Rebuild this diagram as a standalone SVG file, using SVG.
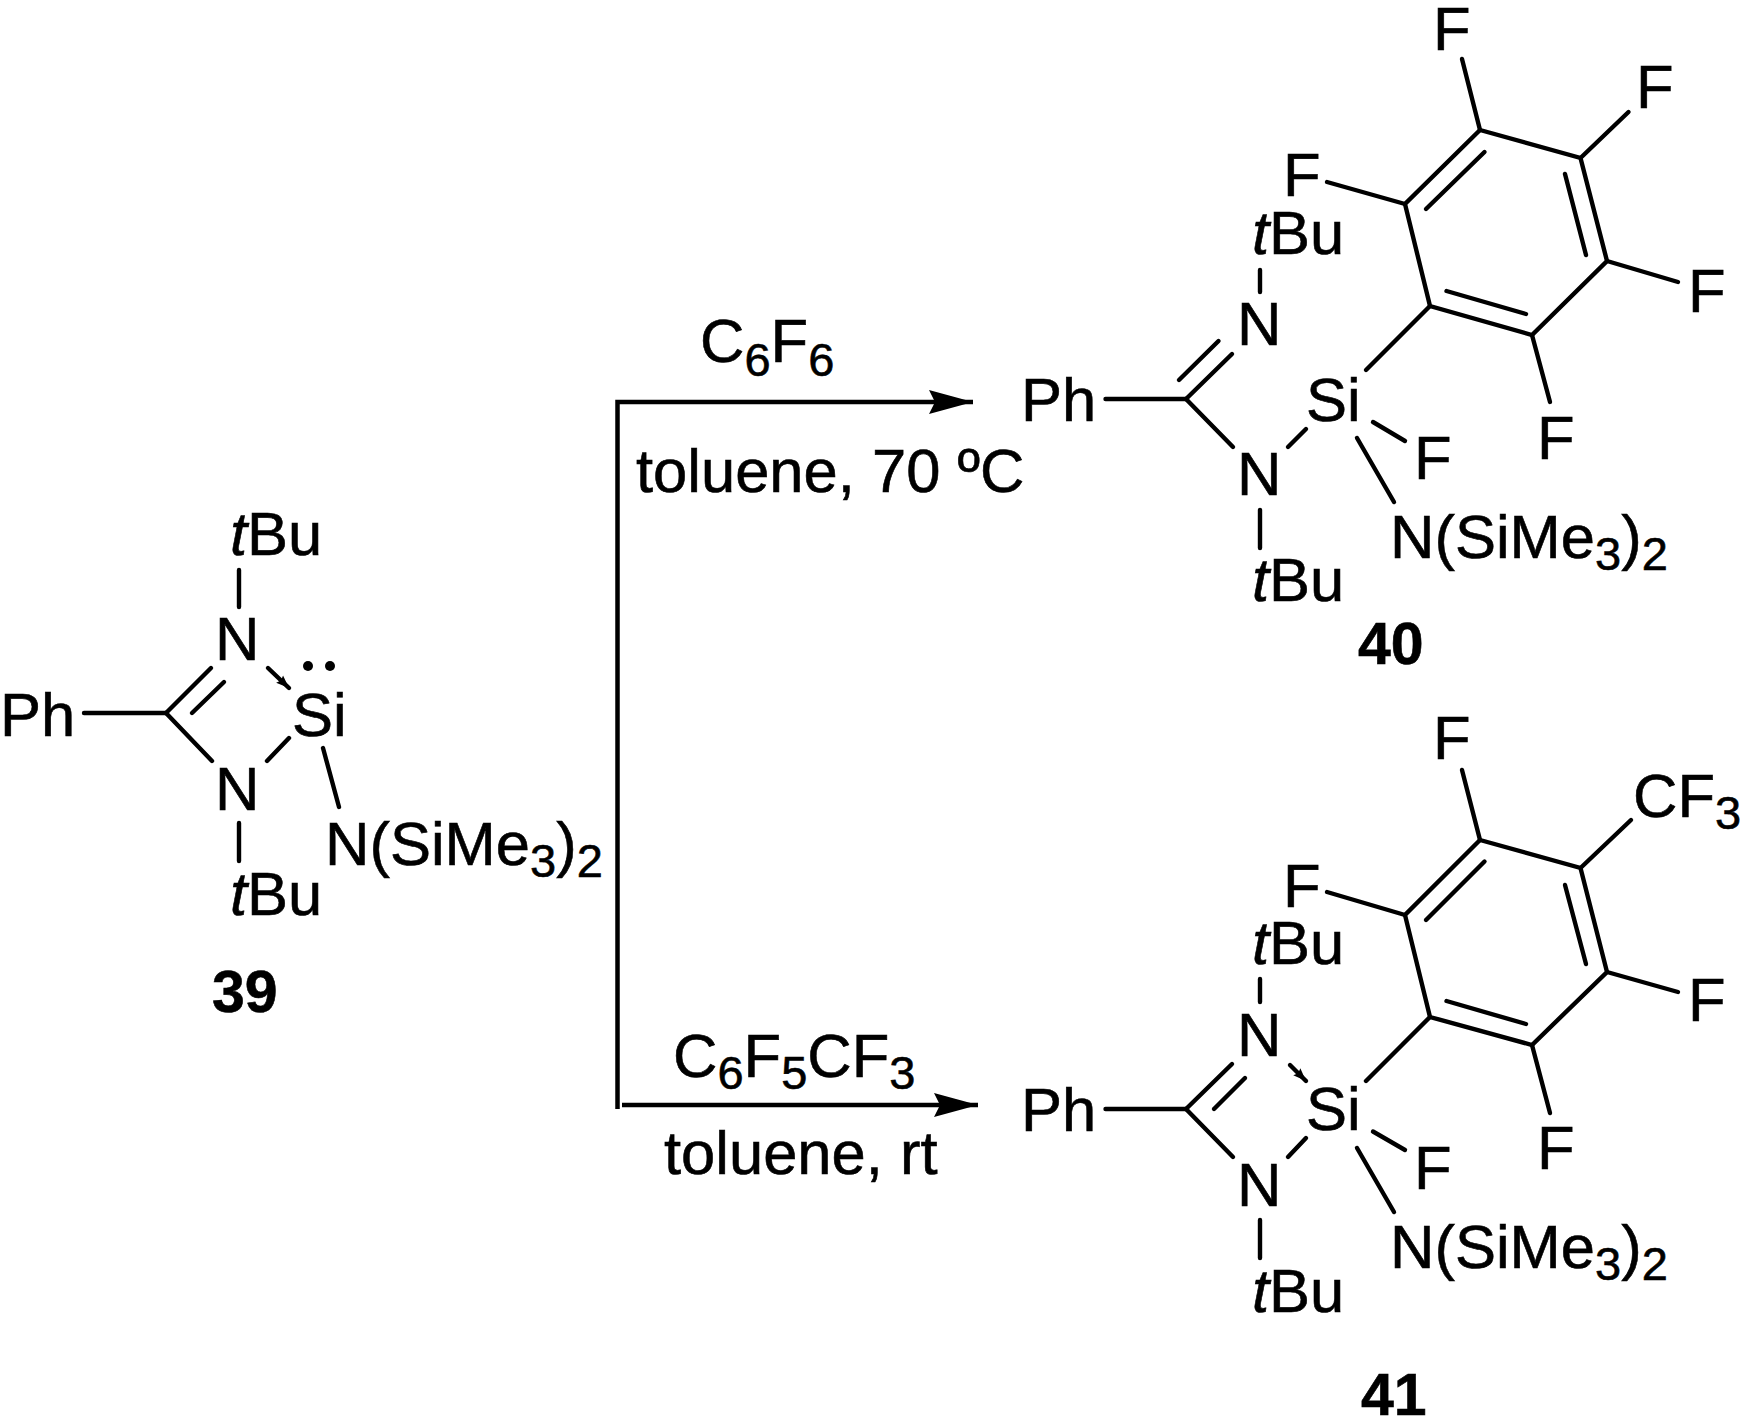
<svg xmlns="http://www.w3.org/2000/svg" width="1745" height="1420" viewBox="0 0 1745 1420">
<style>
text{font-family:"Liberation Sans",Arial,sans-serif;font-size:61.5px;fill:#000;stroke:#000;stroke-width:.6}
.l{font-weight:bold;font-size:59px}
.s{font-size:47px}
.i{font-style:italic}
.b line,.b polyline{stroke:#000;stroke-width:4.4;fill:none;stroke-linecap:round}
.a{stroke:#000;stroke-width:4.5;fill:none}
</style>
<defs>
<marker id="big" markerUnits="userSpaceOnUse" markerWidth="46" markerHeight="26" refX="44" refY="13" orient="auto"><path d="M0 1 L44 13 L0 25 L6 13 Z" fill="#000"/></marker>
<marker id="small" markerUnits="userSpaceOnUse" markerWidth="14" markerHeight="12" refX="13" refY="6" orient="auto"><path d="M0 1 L13 6 L0 11 L2 6 Z" fill="#000"/></marker>
</defs>
<rect width="1745" height="1420" fill="#fff"/>
<g id="connectors">
<polyline class="a" points="617.5,640 617.5,402 973,402" marker-end="url(#big)"/>
<polyline class="a" points="617.5,640 617.5,1109"/>
<line class="a" x1="622" y1="1105" x2="978" y2="1105" marker-end="url(#big)"/>
</g>
<g id="cond-top">
<text x="700" y="362">C<tspan class="s" dy="14">6</tspan><tspan dy="-14">F</tspan><tspan class="s" dy="14">6</tspan></text>
<text x="636" y="492">toluene, 70 ºC</text>
</g>
<g id="cond-bottom">
<text x="673" y="1077">C<tspan class="s" dy="12">6</tspan><tspan dy="-12">F</tspan><tspan class="s" dy="12">5</tspan><tspan dy="-12">CF</tspan><tspan class="s" dy="12">3</tspan></text>
<text x="664" y="1174">toluene, rt</text>
</g>
<g id="compound-39" class="b">
<line x1="239" y1="570" x2="239" y2="607"/>
<line x1="84" y1="713" x2="166" y2="713"/>
<line x1="166" y1="713" x2="211" y2="668"/>
<line x1="192" y1="713" x2="224" y2="682"/>
<line x1="166" y1="713" x2="212" y2="761"/>
<line x1="267" y1="761" x2="289" y2="738"/>
<line x1="268" y1="668" x2="289" y2="688" marker-end="url(#small)"/>
<line x1="323" y1="748" x2="339" y2="807"/>
<line x1="239" y1="823" x2="239" y2="861"/>
<circle cx="308" cy="666" r="5"/><circle cx="330" cy="666" r="5"/>
<text x="230" y="555"><tspan class="i">t</tspan>Bu</text>
<text x="215" y="660">N</text>
<text x="292" y="736">Si</text>
<text x="0" y="736">Ph</text>
<text x="215" y="810">N</text>
<text x="325" y="865">N(SiMe<tspan class="s" dy="12">3</tspan><tspan dy="-12">)</tspan><tspan class="s" dy="12">2</tspan></text>
<text x="230" y="915"><tspan class="i">t</tspan>Bu</text>
<text class="l" x="212" y="1012">39</text>
</g>
<g id="compound-40" class="b">
<polyline points="1480,130 1580.5,158 1607,261 1532,335 1430,306 1405,204 1480,130"/>
<line x1="1426" y1="209" x2="1484.5" y2="152"/>
<line x1="1565" y1="174" x2="1586" y2="255"/>
<line x1="1446.5" y1="291" x2="1526" y2="314"/>
<line x1="1480" y1="130" x2="1462" y2="59"/>
<line x1="1580.5" y1="158" x2="1628.5" y2="112"/>
<line x1="1405" y1="204" x2="1327" y2="182"/>
<line x1="1607" y1="261" x2="1678" y2="282"/>
<line x1="1532" y1="335" x2="1550" y2="402"/>
<line x1="1430" y1="306" x2="1366" y2="370"/>
<line x1="1373" y1="422" x2="1405" y2="441"/>
<line x1="1357" y1="438" x2="1394" y2="502"/>
<line x1="1105.5" y1="399" x2="1186" y2="399"/>
<line x1="1186" y1="399" x2="1232" y2="354"/>
<line x1="1179" y1="380" x2="1218.5" y2="341"/>
<line x1="1260" y1="270" x2="1260" y2="292"/>
<line x1="1186" y1="399" x2="1233" y2="447"/>
<line x1="1288" y1="447" x2="1306" y2="429"/>
<line x1="1260" y1="510" x2="1260" y2="548"/>
<text x="1433" y="50">F</text><text x="1636" y="108">F</text><text x="1283" y="196">F</text><text x="1688" y="312">F</text><text x="1537" y="459">F</text><text x="1414" y="479">F</text>
<text x="1252" y="254"><tspan class="i">t</tspan>Bu</text>
<text x="1237" y="345">N</text>
<text x="1021" y="421">Ph</text>
<text x="1306" y="421">Si</text>
<text x="1237" y="495">N</text>
<text x="1390" y="558">N(SiMe<tspan class="s" dy="12">3</tspan><tspan dy="-12">)</tspan><tspan class="s" dy="12">2</tspan></text>
<text x="1252" y="601"><tspan class="i">t</tspan>Bu</text>
<text class="l" x="1358" y="664">40</text>
</g>
<g id="compound-41" class="b">
<polyline points="1480,840 1580.5,868 1607,972 1532,1045 1430,1017 1405,915 1480,840"/>
<line x1="1426" y1="920" x2="1484.5" y2="861.5"/>
<line x1="1565" y1="885" x2="1586" y2="964"/>
<line x1="1446.5" y1="1001" x2="1526" y2="1024"/>
<line x1="1480" y1="840" x2="1462" y2="770"/>
<line x1="1580.5" y1="868" x2="1631" y2="820"/>
<line x1="1405" y1="915" x2="1327" y2="892"/>
<line x1="1607" y1="972" x2="1678" y2="992"/>
<line x1="1532" y1="1045" x2="1550" y2="1113"/>
<line x1="1430" y1="1017" x2="1366" y2="1081"/>
<line x1="1373" y1="1131.5" x2="1405" y2="1150"/>
<line x1="1357" y1="1148" x2="1394" y2="1212"/>
<line x1="1105.5" y1="1109" x2="1186" y2="1109"/>
<line x1="1186" y1="1109" x2="1232" y2="1064"/>
<line x1="1214" y1="1109" x2="1245" y2="1078"/>
<line x1="1260" y1="979" x2="1260" y2="1002"/>
<line x1="1290" y1="1065" x2="1306" y2="1081" marker-end="url(#small)"/>
<line x1="1186" y1="1109" x2="1233" y2="1157"/>
<line x1="1288" y1="1157" x2="1306" y2="1138"/>
<line x1="1260" y1="1220" x2="1260" y2="1258"/>
<text x="1433" y="759">F</text><text x="1283" y="907">F</text><text x="1688" y="1021">F</text><text x="1537" y="1169">F</text><text x="1414" y="1189">F</text>
<text x="1633" y="817">CF<tspan class="s" dy="12">3</tspan></text>
<text x="1252" y="964"><tspan class="i">t</tspan>Bu</text>
<text x="1237" y="1056">N</text>
<text x="1021" y="1131">Ph</text>
<text x="1306" y="1130">Si</text>
<text x="1237" y="1206">N</text>
<text x="1390" y="1268">N(SiMe<tspan class="s" dy="12">3</tspan><tspan dy="-12">)</tspan><tspan class="s" dy="12">2</tspan></text>
<text x="1252" y="1312"><tspan class="i">t</tspan>Bu</text>
<text class="l" x="1361" y="1415">41</text>
</g>
</svg>
